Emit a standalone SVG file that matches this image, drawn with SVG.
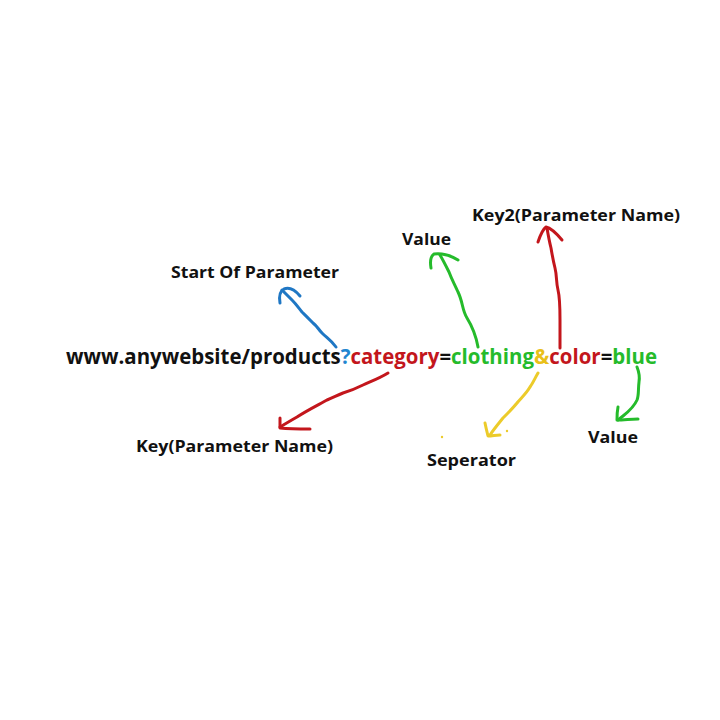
<svg xmlns="http://www.w3.org/2000/svg" width="720" height="720" viewBox="0 0 720 720">
<style>
text{font-family:"Open Sans","Liberation Sans",sans-serif;font-weight:700;fill:#111}
.lbl{font-size:16px}
.url{font-size:21px}
.c{fill:none;stroke-width:3;stroke-linecap:round;stroke-linejoin:round}
.blue{stroke:#1f77c4}.red{stroke:#c3161c}.green{stroke:#25bb2b}.yel{stroke:#eccb2a}
</style>
<rect width="720" height="720" fill="#fff"/>
<g id="url">
<text class="url" x="66" y="364" textLength="591" lengthAdjust="spacingAndGlyphs">www.anywebsite/products<tspan fill="#1f86d0">?</tspan><tspan fill="#c3161c">category</tspan><tspan fill="#111">=</tspan><tspan fill="#25bb2b">clothing</tspan><tspan fill="#e9c019">&amp;</tspan><tspan fill="#c3161c">color</tspan><tspan fill="#111">=</tspan><tspan fill="#25bb2b">blue</tspan></text>
</g>
<g id="label-start"><text class="lbl" x="171" y="278" textLength="168" lengthAdjust="spacingAndGlyphs">Start Of Parameter</text></g>
<g id="label-value1"><text class="lbl" x="402" y="245" textLength="49" lengthAdjust="spacingAndGlyphs">Value</text></g>
<g id="label-key2"><text class="lbl" x="472" y="221" textLength="208" lengthAdjust="spacingAndGlyphs">Key2(Parameter Name)</text></g>
<g id="label-key"><text class="lbl" x="136" y="452" textLength="197" lengthAdjust="spacingAndGlyphs">Key(Parameter Name)</text></g>
<g id="label-sep"><text class="lbl" x="427" y="466" textLength="89" lengthAdjust="spacingAndGlyphs">Seperator</text></g>
<g id="label-value2"><text class="lbl" x="588" y="443" textLength="50" lengthAdjust="spacingAndGlyphs">Value</text></g>
<g id="connectors">
<path class="c blue" d="M336,347 C331,340 327,338 322,333 C318,329 318,327 313,323 C308,318 306,316 302,312 C298,307 296,304 292,300 C288,296 285,293 282,290"/>
<path class="c blue" d="M280,303 C279,297 280,291 284,289 C289,287 295,290 300,296"/>
<path class="c green" d="M478,347 C476,336 472,326 467,318 C462,310 463,302 458,292 C454,283 452,280 449,272 C446,266 443,260 440,255"/>
<path class="c green" d="M431,268 C430,262 431,256 434,254 C442,253 450,255 458,260"/>
<path class="c red" d="M560,348 L560,320 C560,305 560,298 558,290 C556,282 557,276 555,268 C553,260 552,254 551,248 C549,240 548,234 547,228"/>
<path class="c red" d="M538,242 C540,236 542,230 546,227 C551,228 557,234 562,240"/>
<path class="c red" d="M388,373 C380,378 372,381 363,385 C355,389 350,391 343,393 C336,396 332,398 327,400 C318,405 306,411 297,417 C290,421 285,424 280,427"/>
<path class="c red" d="M280,418 L280,428 C290,429 300,429 310,429"/>
<path class="c yel" d="M538,373 C535,378 533,383 530,387 C526,394 520,399 517,403 C513,408 508,413 503,418 C499,423 494,429 490,435"/>
<path class="c yel" d="M485,423 C486,428 487,432 488,436 C492,436 496,435 500,435"/>
<circle cx="442" cy="437" r="1.2" fill="#eccb2a"/>
<circle cx="507" cy="431" r="1.2" fill="#eccb2a"/>
<path class="c green" d="M637,367 C639,372 640,376 639,382 C638,390 639,395 637,400 C634,407 628,412 623,416 L618,420"/>
<path class="c green" d="M618,407 C617,412 617,416 617,420 C624,420 631,419 638,419"/>
</g>
</svg>
